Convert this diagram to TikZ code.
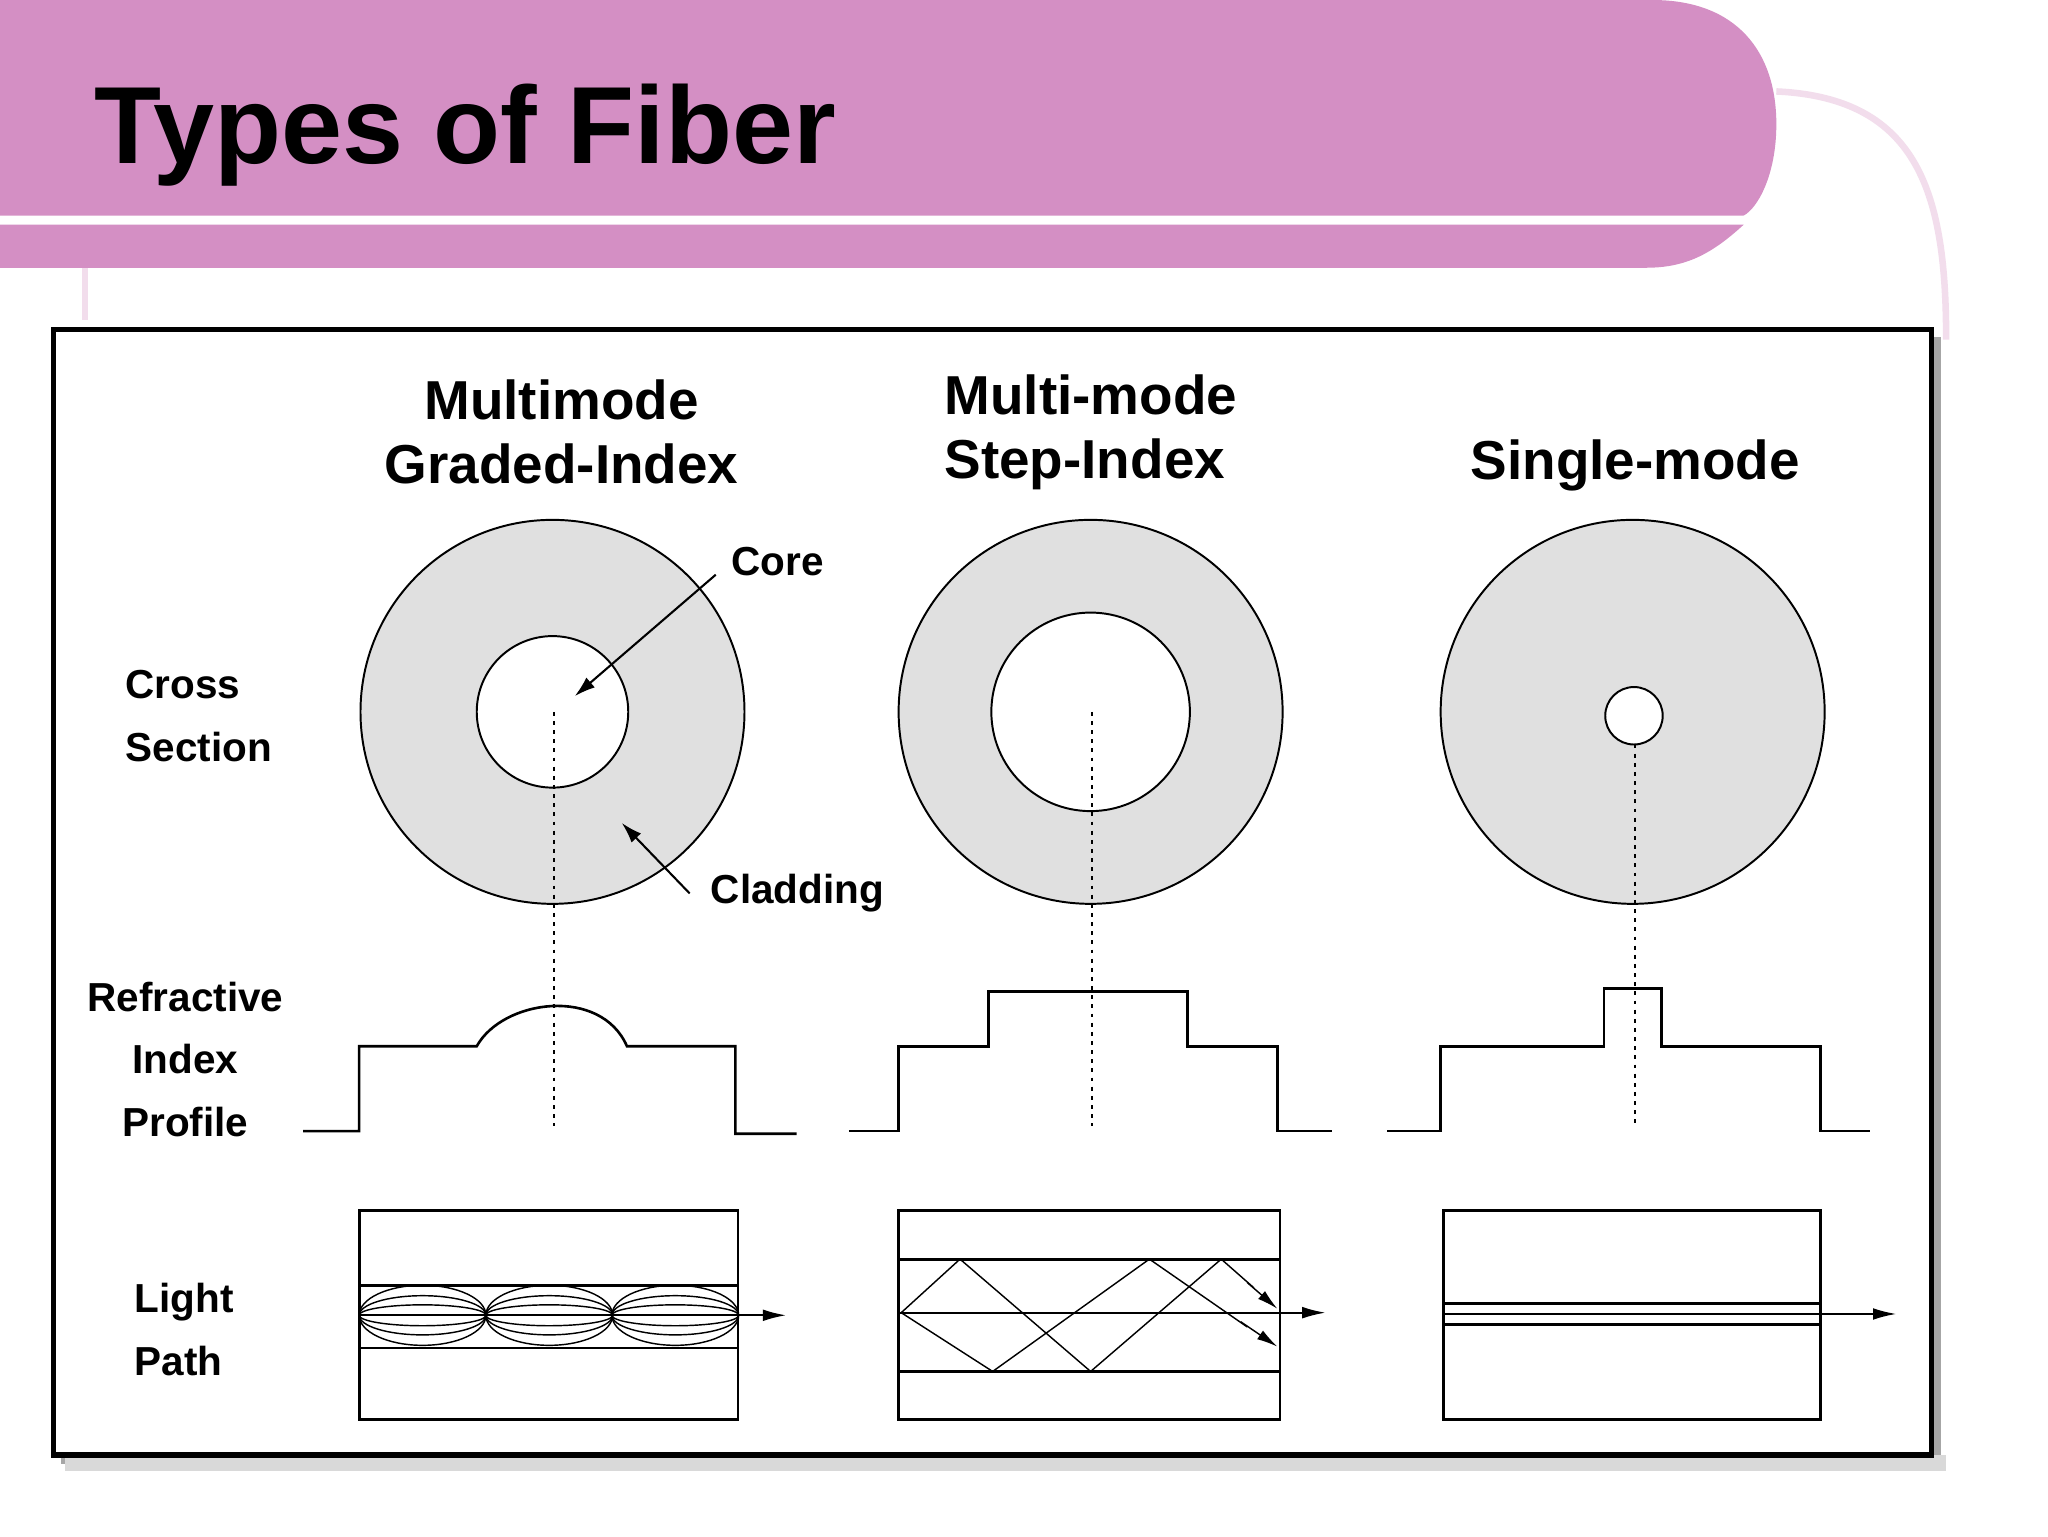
\documentclass[tikz,border=0pt]{standalone}
\usepackage{fontspec}
\setmainfont{Liberation Sans}
\usetikzlibrary{arrows.meta}
\definecolor{pinkband}{HTML}{D48FC4}
\definecolor{pinkline}{HTML}{F2DDEC}
\definecolor{clad}{HTML}{E0E0E0}
\begin{document}
\begin{tikzpicture}[x=1pt,y=-1pt,
  lbl/.style={font=\bfseries\fontsize{31}{48}\selectfont, inner sep=0pt},
  hdr/.style={font=\bfseries\fontsize{42}{49}\selectfont, inner sep=0pt},
  thk/.style={line width=2.2pt},
  dotl/.style={line width=1.3pt, dash pattern=on 3pt off 4pt},
  prof/.style={line width=2pt},
  ray/.style={line width=1.1pt},
  arr/.style={-{Latex[length=18pt,width=9pt]}, line width=1.6pt}]
\useasboundingbox (0,0) rectangle (1568,1176);
\fill[white] (0,0) rectangle (1568,1176);
% header
\draw[pinkline, line width=5pt] (1360,70) .. controls (1470,75) and (1490,150) .. (1490,260);
\draw[pinkline, line width=5pt] (65,205) -- (65,245);
\fill[pinkband] (0,0) -- (1265,0) .. controls (1330,0) and (1360,40) .. (1360,95) .. controls (1360,135) and (1345,160) .. (1335,165) -- (0,165) -- cycle;
\fill[pinkband] (0,172) -- (1335,172) .. controls (1310,195) and (1290,205) .. (1260,205) -- (0,205) -- cycle;
\node[anchor=base west, font=\bfseries\fontsize{84}{90}\selectfont, inner sep=0pt] (title) at (72,125) {Types of Fiber};
% frame with shadow
\fill[black!35] (47,258) rectangle (1486,1121);
\fill[black!15] (50,1114) rectangle (1490,1126);
\draw[line width=4pt, fill=white] (41,252) rectangle (1479,1114);
% headers
\node[hdr, align=center] (h1) at (430,331) {Multimode\\Graded-Index};
\node[hdr, align=left, anchor=west] (h2) at (723,331) {Multi-mode\\Step-Index};
\node[hdr] (h3) at (1252,356) {Single-mode};
% left labels
\node[lbl, align=left, anchor=west] (cs) at (96,548) {Cross\\Section};
\node[lbl, align=center] (rip) at (142,811) {Refractive\\Index\\Profile};
\node[lbl, align=left, anchor=west] (lp) at (103,1018) {Light\\Path};
% cross sections
\draw[line width=1.5pt, fill=clad] (423,545) circle (147);
\draw[line width=1.5pt, fill=white] (423,545) circle (58);
\draw[line width=1.5pt, fill=clad] (835,545) circle (147);
\draw[line width=1.5pt, fill=white] (835,545) circle (76);
\draw[line width=1.5pt, fill=clad] (1250,545) circle (147);
\draw[line width=1.5pt, fill=white] (1251,548) circle (22);
% dotted center lines
\draw[dotl] (424,545) -- (424,862);
\draw[dotl] (836,545) -- (836,862);
\draw[dotl] (1252,570) -- (1252,862);
% core / cladding labels
\node[lbl, anchor=west] (core) at (560,430) {Core};
\node[lbl, anchor=west] (cladding) at (544,684) {Cladding};
\coordinate (coreTip) at (440,533);
\coordinate (coreTail) at (548,440);
\coordinate (cladTip) at (476,630);
\coordinate (cladTail) at (528,684);
\draw[arr, -{Latex[length=16pt,width=10pt]}] (coreTail) -- (coreTip);
\draw[arr, -{Latex[length=16pt,width=10pt]}] (cladTail) -- (cladTip);
% refractive index profiles
\draw[prof] (232,866) -- (275,866) -- (275,801) -- (365,801) .. controls (385,765) and (460,755) .. (480,801) -- (563,801) -- (563,868) -- (610,868);
\draw[prof] (650,866) -- (688,866) -- (688,801) -- (757,801) -- (757,759) -- (909,759) -- (909,801) -- (978,801) -- (978,866) -- (1020,866);
\draw[prof] (1062,866) -- (1103,866) -- (1103,801) -- (1228,801) -- (1228,757) -- (1272,757) -- (1272,801) -- (1394,801) -- (1394,866) -- (1432,866);
% light path: graded
\draw[thk] (275,927) rectangle (565,1087);
\draw[thk] (275,984) -- (565,984);
\draw[thk] (275,1032) -- (565,1032);
\foreach \cx in {323.5,420.5,517}{
  \draw[ray] (\cx,1007) ellipse (48.5 and 23);
  \draw[ray] (\cx,1007) ellipse (48.5 and 15);
  \draw[ray] (\cx,1007) ellipse (48.5 and 8);
}
\coordinate (g0) at (275,1007);
\coordinate (g1) at (602,1007);
\draw[arr] (g0) -- (g1);
% light path: step
\draw[thk] (688,927) rectangle (980,1087);
\draw[thk] (688,964) -- (980,964);
\draw[thk] (688,1050) -- (980,1050);
\draw[ray] (690,1005) -- (735,964) -- (835,1050) -- (935,964) -- (960,986);
\draw[ray] (690,1005) -- (760,1050) -- (880,964) -- (955,1016);
\coordinate (sa1) at (955,982);
\coordinate (sa2) at (978,1002);
\coordinate (sb1) at (950,1012);
\coordinate (sb2) at (978,1031);
\draw[arr,-{Latex[length=16pt,width=8pt]}, line width=1.1pt] (sa1) -- (sa2);
\draw[arr,-{Latex[length=16pt,width=8pt]}, line width=1.1pt] (sb1) -- (sb2);
\coordinate (s0) at (688,1005);
\coordinate (s1) at (1015,1005);
\draw[arr] (s0) -- (s1);
% light path: single
\draw[thk] (1105,927) rectangle (1394,1087);
\draw[thk] (1105,998) -- (1394,998);
\draw[thk] (1105,1014) -- (1394,1014);
\coordinate (m0) at (1105,1006);
\coordinate (m1) at (1452,1006);
\draw[arr] (m0) -- (m1);
\end{tikzpicture}
\end{document}
